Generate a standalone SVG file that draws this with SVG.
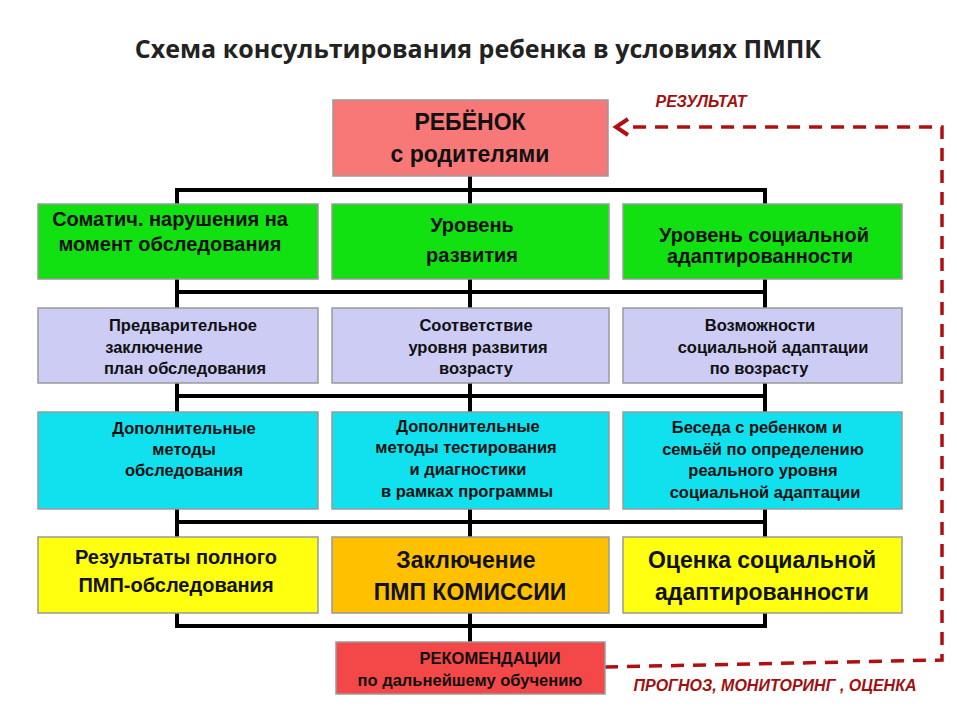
<svg xmlns="http://www.w3.org/2000/svg" width="957" height="720" viewBox="0 0 957 720">
<style>
text{font-family:"Liberation Sans",Arial,sans-serif;font-weight:bold;fill:#111;text-anchor:middle}
.b{stroke:#9a9a9a;stroke-width:1.5}
.s{font-size:16.5px}.m{font-size:20px}.l{font-size:23px}
.bus{fill:none;stroke:#000;stroke-width:4}
.red{fill:none;stroke:#b01010;stroke-width:3.5;stroke-dasharray:13 9}
.rt{fill:#a01010;font-style:italic;font-size:16px}
</style>
<rect width="957" height="720" fill="#fff"/>
<text x="478" y="58" style="font-family:'Open Sans','Liberation Sans',sans-serif;font-size:25px;fill:#222">Схема консультирования ребенка в условиях ПМПК</text>
<g id="connectors">
<path class="bus" d="M470 176V642M177 204V190H765V204M177 279V292H765V279M177 308V292M765 308V292M177 383V396H765V383M177 412V396M765 412V396M177 509V522H765V509M177 537V522M765 537V522M177 613V626H765V613"/>
<path class="red" d="M605 667L942 660V127H625"/>
<path d="M628 119L616 127L628 135" fill="none" stroke="#b01010" stroke-width="4"/>
</g>
<g id="root"><rect class="b" x="333" y="100" width="275" height="76" fill="#f87878"/><text class="l" x="470" y="130">РЕБЁНОК</text><text class="l" x="470" y="162">с родителями</text></g>
<g id="n11"><rect class="b" x="38" y="204" width="280" height="75" fill="#11e011"/><text class="m" x="170" y="226">Соматич. нарушения на</text><text class="m" x="170" y="251">момент обследования</text></g>
<g id="n12"><rect class="b" x="332" y="204" width="277" height="75" fill="#11e011"/><text class="m" x="472" y="232">Уровень</text><text class="m" x="472" y="262">развития</text></g>
<g id="n13"><rect class="b" x="623" y="204" width="279" height="75" fill="#11e011"/><text class="m" x="764" y="242">Уровень социальной</text><text class="m" x="760" y="263">адаптированности</text></g>
<g id="n21"><rect class="b" x="38" y="308" width="280" height="75" fill="#ccccf4"/><text class="s" x="183" y="331">Предварительное</text><text class="s" x="154" y="353">заключение</text><text class="s" x="185" y="374">план обследования</text></g>
<g id="n22"><rect class="b" x="332" y="308" width="277" height="75" fill="#ccccf4"/><text class="s" x="476" y="331">Соответствие</text><text class="s" x="478" y="353">уровня развития</text><text class="s" x="476" y="374">возрасту</text></g>
<g id="n23"><rect class="b" x="623" y="308" width="279" height="75" fill="#ccccf4"/><text class="s" x="760" y="331">Возможности</text><text class="s" x="773" y="353">социальной адаптации</text><text class="s" x="759" y="374">по возрасту</text></g>
<g id="n31"><rect class="b" x="38" y="412" width="280" height="97" fill="#11e0ee"/><text class="s" x="184" y="434">Дополнительные</text><text class="s" x="184" y="455">методы</text><text class="s" x="184" y="476">обследования</text></g>
<g id="n32"><rect class="b" x="332" y="412" width="277" height="97" fill="#11e0ee"/><text class="s" x="468" y="432">Дополнительные</text><text class="s" x="466" y="453">методы тестирования</text><text class="s" x="468" y="475">и  диагностики</text><text class="s" x="467" y="497">в рамках программы</text></g>
<g id="n33"><rect class="b" x="623" y="412" width="279" height="97" fill="#11e0ee"/><text class="s" x="757" y="433">Беседа с ребенком и</text><text class="s" x="763" y="455">семьёй по определению</text><text class="s" x="763" y="476">реального уровня</text><text class="s" x="765" y="498">социальной адаптации</text></g>
<g id="n41"><rect class="b" x="38" y="537" width="280" height="76" fill="#ffff10"/><text class="m" x="176" y="564">Результаты  полного</text><text class="m" x="176" y="592">ПМП-обследования</text></g>
<g id="n42"><rect class="b" x="332" y="537" width="277" height="76" fill="#ffc000"/><text class="l" x="466" y="568">Заключение</text><text class="l" x="470" y="600">ПМП  КОМИССИИ</text></g>
<g id="n43"><rect class="b" x="623" y="537" width="279" height="76" fill="#ffff10"/><text class="l" x="762" y="568">Оценка социальной</text><text class="l" x="762" y="600">адаптированности</text></g>
<g id="rec"><rect class="b" x="336" y="642" width="269" height="52" fill="#f44848"/><text class="s" x="490" y="664">РЕКОМЕНДАЦИИ</text><text class="s" x="470" y="686">по дальнейшему обучению</text></g>
<text class="rt" x="701" y="107">РЕЗУЛЬТАТ</text>
<text class="rt" x="775" y="691">ПРОГНОЗ, МОНИТОРИНГ , ОЦЕНКА</text>
</svg>
